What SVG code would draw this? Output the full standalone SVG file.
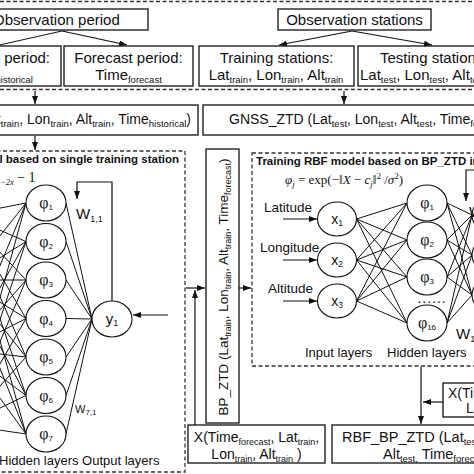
<svg xmlns="http://www.w3.org/2000/svg" width="474" height="474" viewBox="0 0 474 474">
<style>
text{font-family:"Liberation Sans",Arial,sans-serif;fill:#111}
.box{fill:#fff;stroke:#222;stroke-width:1.4}
.dash{fill:none;stroke:#333;stroke-width:1.3;stroke-dasharray:4 2.5}
.ln{stroke:#111;stroke-width:1;fill:none}
.ar{stroke:#111;stroke-width:1.2;fill:none;marker-end:url(#ah)}
.nd{fill:#fff;stroke:#111;stroke-width:1.1}
.t15{font-size:15px}
.t14{font-size:14px}
.t13{font-size:13px}
.b{font-weight:bold;font-size:11.5px}
.sb{font-size:9.5px}
.phi{font-family:"Liberation Serif","Times New Roman",serif;font-size:16px}
.ps{font-family:"Liberation Sans",Arial,sans-serif;font-size:8px}
.ser{font-family:"Liberation Serif","Times New Roman",serif}
</style>
<defs>
<marker id="ah" viewBox="0 0 8 6" refX="8" refY="3" markerWidth="8" markerHeight="6" markerUnits="userSpaceOnUse" orient="auto"><path d="M0,0 L8,3 L0,6 z" fill="#111"/></marker>
</defs>

<g id="frames">
<line class="dash" x1="0" y1="1.5" x2="474" y2="1.5"/>
<line class="dash" x1="0" y1="89.5" x2="474" y2="89.5"/>
</g>

<g id="obs-period">
<rect class="box" x="-30" y="9" width="178" height="21"/>
<text class="t15" x="-7" y="25">Observation period</text>
</g>
<g id="obs-stations">
<rect class="box" x="278" y="9" width="153" height="21"/>
<text class="t15" x="354.5" y="25" text-anchor="middle">Observation stations</text>
</g>

<g id="hist-period">
<rect class="box" x="-40" y="46" width="101" height="40"/>
<text class="t15" x="50" y="63" text-anchor="end">Historical period:</text>
<text class="t15" x="33" y="80" text-anchor="end">Time<tspan class="sb" dy="3">historical</tspan></text>
</g>
<g id="fore-period">
<rect class="box" x="64" y="46" width="129" height="40"/>
<text class="t15" x="128.5" y="63" text-anchor="middle">Forecast period:</text>
<text class="t15" x="128.5" y="80" text-anchor="middle">Time<tspan class="sb" dy="3">forecast</tspan></text>
</g>
<g id="train-stations">
<rect class="box" x="199" y="46" width="155" height="40"/>
<text class="t15" x="276.5" y="63" text-anchor="middle">Training stations:</text>
<text class="t15" x="276" y="80" text-anchor="middle">Lat<tspan class="sb" dy="3">train</tspan><tspan dy="-3">, Lon</tspan><tspan class="sb" dy="3">train</tspan><tspan dy="-3">, Alt</tspan><tspan class="sb" dy="3">train</tspan></text>
</g>
<g id="test-stations">
<rect class="box" x="358" y="46" width="130" height="40"/>
<text class="t15" x="380" y="63">Testing stations:</text>
<text class="t15" x="360" y="80">Lat<tspan class="sb" dy="3">test</tspan><tspan dy="-3">, Lon</tspan><tspan class="sb" dy="3">test</tspan><tspan dy="-3">, Alt</tspan><tspan class="sb" dy="3">test</tspan></text>
</g>

<g id="train-data">
<rect class="box" x="-40" y="105" width="238" height="30"/>
<text class="t14" x="191" y="124" text-anchor="end">Lat<tspan class="sb" dy="3">train</tspan><tspan dy="-3">, Lon</tspan><tspan class="sb" dy="3">train</tspan><tspan dy="-3">, Alt</tspan><tspan class="sb" dy="3">train</tspan><tspan dy="-3">, Time</tspan><tspan class="sb" dy="3">historical</tspan><tspan dy="-3">)</tspan></text>
</g>
<g id="gnss-data">
<rect class="box" x="203" y="105" width="290" height="30"/>
<text class="t14" x="229" y="124">GNSS_ZTD (Lat<tspan class="sb" dy="3">test</tspan><tspan dy="-3">, Lon</tspan><tspan class="sb" dy="3">test</tspan><tspan dy="-3">, Alt</tspan><tspan class="sb" dy="3">test</tspan><tspan dy="-3">, Time</tspan><tspan class="sb" dy="3">forecast</tspan><tspan dy="-3">)</tspan></text>
</g>

<g id="bp-panel">
<rect class="dash" x="-10" y="151" width="195" height="321"/>
<text class="b" x="179" y="163" text-anchor="end">model based on single training station</text>
<text class="ser" x="0" y="185" font-size="8.5" font-style="italic">−2x</text>
<text class="ser" x="17" y="182" font-size="14">− 1</text>
<g id="bp-input-links" class="ln">
<path d="M-35,215 L26,203 M-35,215 L26,241.5 M-35,215 L26,280 M-35,215 L26,318.5 M-35,215 L26,357 M-35,215 L26,395.5 M-35,215 L26,434"/>
<path d="M-35,280 L26,203 M-35,280 L26,241.5 M-35,280 L26,280 M-35,280 L26,318.5 M-35,280 L26,357 M-35,280 L26,395.5 M-35,280 L26,434"/>
<path d="M-35,350 L26,203 M-35,350 L26,241.5 M-35,350 L26,280 M-35,350 L26,318.5 M-35,350 L26,357 M-35,350 L26,395.5 M-35,350 L26,434"/>
<path d="M-35,425 L26,203 M-35,425 L26,241.5 M-35,425 L26,280 M-35,425 L26,318.5 M-35,425 L26,357 M-35,425 L26,395.5 M-35,425 L26,434"/>
</g>
<g id="bp-output-links" class="ln">
<path d="M66,203 L92,319 M66,241.5 L92,319 M66,280 L92,319 M66,318.5 L92,319 M66,357 L92,319 M66,395.5 L92,319 M66,434 L92,319"/>
</g>
<g id="bp-h1"><ellipse class="nd" cx="46" cy="203" rx="20" ry="18"/><text class="phi" x="46" y="208" text-anchor="middle">φ<tspan class="ps" dy="2">1</tspan></text></g>
<g id="bp-h2"><ellipse class="nd" cx="46" cy="241.5" rx="20" ry="18"/><text class="phi" x="46" y="246.5" text-anchor="middle">φ<tspan class="ps" dy="2">2</tspan></text></g>
<g id="bp-h3"><ellipse class="nd" cx="46" cy="280" rx="20" ry="18"/><text class="phi" x="46" y="285" text-anchor="middle">φ<tspan class="ps" dy="2">3</tspan></text></g>
<g id="bp-h4"><ellipse class="nd" cx="46" cy="318.5" rx="20" ry="18"/><text class="phi" x="46" y="323.5" text-anchor="middle">φ<tspan class="ps" dy="2">4</tspan></text></g>
<g id="bp-h5"><ellipse class="nd" cx="46" cy="357" rx="20" ry="18"/><text class="phi" x="46" y="362" text-anchor="middle">φ<tspan class="ps" dy="2">5</tspan></text></g>
<g id="bp-h6"><ellipse class="nd" cx="46" cy="395.5" rx="20" ry="18"/><text class="phi" x="46" y="400.5" text-anchor="middle">φ<tspan class="ps" dy="2">6</tspan></text></g>
<g id="bp-h7"><ellipse class="nd" cx="46" cy="434" rx="20" ry="18"/><text class="phi" x="46" y="439" text-anchor="middle">φ<tspan class="ps" dy="2">7</tspan></text></g>
<g id="bp-y1"><ellipse class="nd" cx="112" cy="319" rx="20" ry="18"/><text class="t15" x="112" y="324" text-anchor="middle">y<tspan font-size="9" dy="2">1</tspan></text></g>
<path class="ar" d="M112,301 V182 H77 V199"/>
<text class="t15" x="76" y="219">W<tspan font-size="9" dy="3">1,1</tspan></text>
<text x="75" y="413" font-size="11">W<tspan font-size="8" dy="2">7,1</tspan></text>
<line class="ar" x1="168" y1="315" x2="133" y2="315"/>
<text class="t13" x="-1" y="465">Hidden layers Output layers</text>
</g>

<g id="bp-ztd">
<rect class="box" x="206" y="149" width="33" height="274"/>
<text font-size="13.5" transform="translate(228,287) rotate(-90)" text-anchor="middle">BP_ZTD (Lat<tspan font-size="9" dy="3">train</tspan><tspan dy="-3">, Lon</tspan><tspan font-size="9" dy="3">train</tspan><tspan dy="-3">, Alt</tspan><tspan font-size="9" dy="3">train</tspan><tspan dy="-3">, Time</tspan><tspan font-size="9" dy="3">forecast</tspan><tspan dy="-3">)</tspan></text>
</g>

<g id="x-train">
<rect class="box" x="188" y="425" width="137" height="38"/>
<text class="t14" x="256.5" y="442" text-anchor="middle">X(Time<tspan font-size="9" dy="3">forecast</tspan><tspan dy="-3">, Lat</tspan><tspan font-size="9" dy="3">train</tspan><tspan dy="-3">,</tspan></text>
<text class="t14" x="256.5" y="459" text-anchor="middle">Lon<tspan font-size="9" dy="3">train</tspan><tspan dy="-3">, Alt</tspan><tspan font-size="9" dy="3">train</tspan><tspan dy="-3"> )</tspan></text>
</g>

<g id="rbf-bp-ztd">
<rect class="box" x="332" y="425" width="160" height="38"/>
<text font-size="14.5" x="342" y="442">RBF_BP_ZTD (Lat<tspan font-size="9.5" dy="3">test</tspan><tspan dy="-3">, Lon</tspan><tspan font-size="9.5" dy="3">test</tspan><tspan dy="-3">,</tspan></text>
<text font-size="14.5" x="383" y="459">Alt<tspan font-size="9.5" dy="3">test,</tspan><tspan dy="-3"> Time</tspan><tspan font-size="9.5" dy="3">forecast</tspan><tspan dy="-3">)</tspan></text>
</g>

<g id="x-test">
<rect class="box" x="443" y="383" width="50" height="34"/>
<text class="t14" x="448" y="398">X(Time<tspan font-size="9" dy="3">forecast</tspan></text>
<text class="t14" x="466" y="413">Lat<tspan font-size="9" dy="3">test</tspan></text>
</g>

<g id="rbf-panel">
<rect class="dash" x="252" y="153" width="240" height="213"/>
<text class="b" x="256" y="165">Training RBF model based on BP_ZTD in</text>
<text class="ser" x="285" y="184" font-size="13"><tspan font-style="italic">φ</tspan><tspan font-style="italic" font-size="9" dy="3">j</tspan><tspan dy="-3"> = exp(−‖</tspan><tspan font-style="italic">X</tspan><tspan> − </tspan><tspan font-style="italic">c</tspan><tspan font-style="italic" font-size="9" dy="3">j</tspan><tspan dy="-3">‖</tspan><tspan font-size="9" dy="-5">2</tspan><tspan dy="5"> /</tspan><tspan font-style="italic">σ</tspan><tspan font-size="9" dy="-5">2</tspan><tspan dy="5">)</tspan></text>
<text font-size="13.5" x="264" y="212">Latitude</text>
<text font-size="13.5" x="260" y="252">Longitude</text>
<text font-size="13.5" x="268" y="293">Altitude</text>
<line class="ar" x1="283" y1="219" x2="317" y2="219"/>
<line class="ar" x1="283" y1="260" x2="317" y2="260"/>
<line class="ar" x1="283" y1="301" x2="317" y2="301"/>
<g id="rbf-input-links" class="ln">
<path d="M356.5,219 L407,203 M356.5,219 L407,240 M356.5,219 L407,277 M356.5,219 L407,323"/>
<path d="M356.5,260 L407,203 M356.5,260 L407,240 M356.5,260 L407,277 M356.5,260 L407,323"/>
<path d="M356.5,301 L407,203 M356.5,301 L407,240 M356.5,301 L407,277 M356.5,301 L407,323"/>
</g>
<g id="rbf-output-links" class="ln">
<path d="M447,203 L472,215 M447,203 L472,255 M447,203 L472,295"/>
<path d="M447,240 L472,215 M447,240 L472,255 M447,240 L472,295"/>
<path d="M447,277 L472,215 M447,277 L472,255 M447,277 L472,295"/>
<path d="M447,323 L472,215 M447,323 L472,255 M447,323 L472,295"/>
</g>
<g id="rbf-x1"><ellipse class="nd" cx="337" cy="219" rx="19.5" ry="17"/><text class="t14" x="337" y="224" text-anchor="middle">x<tspan font-size="8.5" dy="2">1</tspan></text></g>
<g id="rbf-x2"><ellipse class="nd" cx="337" cy="260" rx="19.5" ry="17"/><text class="t14" x="337" y="265" text-anchor="middle">x<tspan font-size="8.5" dy="2">2</tspan></text></g>
<g id="rbf-x3"><ellipse class="nd" cx="337" cy="301" rx="19.5" ry="17"/><text class="t14" x="337" y="306" text-anchor="middle">x<tspan font-size="8.5" dy="2">3</tspan></text></g>
<g id="rbf-h1"><ellipse class="nd" cx="427" cy="203" rx="20" ry="18"/><text class="phi" x="427" y="208" text-anchor="middle">φ<tspan class="ps" dy="2">1</tspan></text></g>
<g id="rbf-h2"><ellipse class="nd" cx="427" cy="240" rx="20" ry="18"/><text class="phi" x="427" y="245" text-anchor="middle">φ<tspan class="ps" dy="2">2</tspan></text></g>
<g id="rbf-h3"><ellipse class="nd" cx="427" cy="277" rx="20" ry="18"/><text class="phi" x="427" y="282" text-anchor="middle">φ<tspan class="ps" dy="2">3</tspan></text></g>
<text x="432" y="303" font-size="14" text-anchor="middle" letter-spacing="1">......</text>
<g id="rbf-h16"><ellipse class="nd" cx="427" cy="323" rx="20" ry="18"/><text class="phi" x="427" y="328" text-anchor="middle">φ<tspan class="ps" dy="2">16</tspan></text></g>
<g id="rbf-o1"><ellipse class="nd" cx="492" cy="215" rx="20" ry="18"/></g>
<g id="rbf-o2"><ellipse class="nd" cx="492" cy="255" rx="20" ry="18"/></g>
<g id="rbf-o3"><ellipse class="nd" cx="492" cy="295" rx="20" ry="18"/></g>
<path class="ar" d="M480,170 H466 V201"/>
<text class="t15" x="469" y="217">W<tspan font-size="9" dy="3">1,1</tspan></text>
<text class="t15" x="456" y="339">W<tspan font-size="9" dy="3">16,1</tspan></text>
<text class="t13" x="305" y="357">Input layers</text>
<text class="t13" x="387" y="357">Hidden layers</text>
</g>

<g id="connectors">
<line class="ln" x1="62" y1="31" x2="-5" y2="46"/>
<line class="ar" x1="62" y1="31" x2="127" y2="45"/>
<line class="ar" x1="352" y1="31" x2="279" y2="45"/>
<line class="ar" x1="352" y1="31" x2="432" y2="45"/>
<line class="ar" x1="35" y1="91" x2="35" y2="104"/>
<line class="ar" x1="344" y1="91" x2="344" y2="104"/>
<line class="ar" x1="35" y1="136" x2="35" y2="150"/>
<line class="ar" x1="186" y1="288" x2="205" y2="288"/>
<line class="ar" x1="195" y1="425" x2="195" y2="290"/>
<line class="ar" x1="239" y1="288" x2="251" y2="288"/>
<line class="ar" x1="421" y1="367" x2="421" y2="424"/>
<line class="ar" x1="443" y1="402" x2="423" y2="402"/>
</g>
</svg>
